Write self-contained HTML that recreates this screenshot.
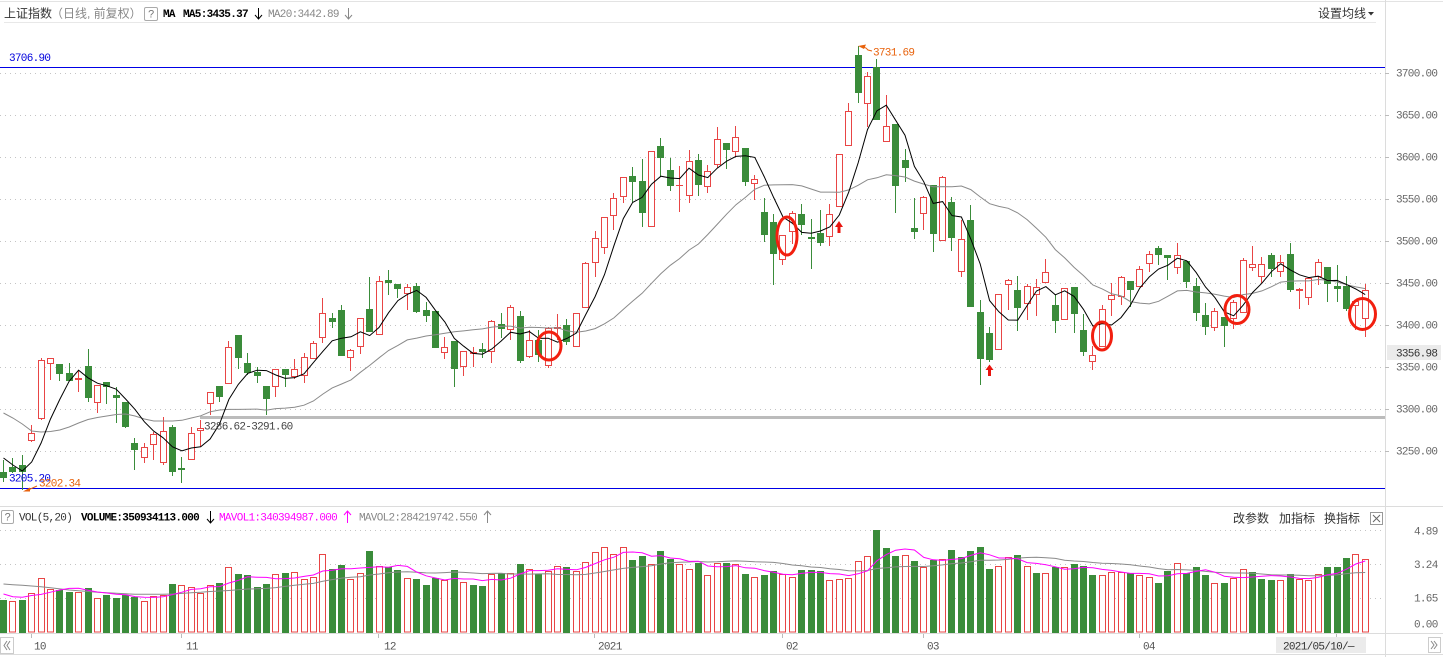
<!DOCTYPE html>
<html><head><meta charset="utf-8">
<style>
*{margin:0;padding:0;box-sizing:border-box}
html,body{width:1443px;height:657px;overflow:hidden;background:#fff}
body{position:relative}
svg{position:absolute;left:0;top:0}
.m{font-family:"Liberation Mono",monospace;font-size:11px;letter-spacing:-0.7px}
.c{font-family:"Liberation Sans","Noto Sans CJK SC",sans-serif;font-size:12px}
</style></head><body>
<svg id="s" width="1443" height="657" xmlns="http://www.w3.org/2000/svg">
<defs><clipPath id="cp"><rect x="0" y="24" width="1385" height="481"/></clipPath>
<clipPath id="cv"><rect x="0" y="507" width="1385" height="127"/></clipPath></defs>
<!-- frame lines -->
<line x1="0" y1="1.5" x2="1443" y2="1.5" stroke="#e3e3e3"/>
<line x1="4" y1="22.5" x2="1376" y2="22.5" stroke="#e8e8e8"/>
<line x1="1385.5" y1="0" x2="1385.5" y2="657" stroke="#dcdcdc"/>
<line x1="0" y1="506.5" x2="1443" y2="506.5" stroke="#dcdcdc"/>
<line x1="0" y1="633.5" x2="1443" y2="633.5" stroke="#dcdcdc"/>
<line x1="0" y1="654.5" x2="1443" y2="654.5" stroke="#dcdcdc"/>
<!-- price grid -->
<g stroke="#c4c4c4" stroke-dasharray="1 4">
<line x1="0" y1="73.5" x2="1382" y2="73.5"/><line x1="0" y1="115.5" x2="1382" y2="115.5"/>
<line x1="0" y1="157.5" x2="1382" y2="157.5"/><line x1="0" y1="199.5" x2="1382" y2="199.5"/>
<line x1="0" y1="241.5" x2="1382" y2="241.5"/><line x1="0" y1="283.5" x2="1382" y2="283.5"/>
<line x1="0" y1="325.5" x2="1382" y2="325.5"/><line x1="0" y1="367.5" x2="1382" y2="367.5"/>
<line x1="0" y1="409.5" x2="1382" y2="409.5"/><line x1="0" y1="451.5" x2="1382" y2="451.5"/>
<line x1="0" y1="530.5" x2="1382" y2="530.5"/><line x1="0" y1="564.5" x2="1382" y2="564.5"/>
<line x1="0" y1="598.5" x2="1382" y2="598.5"/>
</g>
<g stroke="#bbb">
<line x1="1385" y1="73.5" x2="1389" y2="73.5"/><line x1="1385" y1="115.5" x2="1389" y2="115.5"/>
<line x1="1385" y1="157.5" x2="1389" y2="157.5"/><line x1="1385" y1="199.5" x2="1389" y2="199.5"/>
<line x1="1385" y1="241.5" x2="1389" y2="241.5"/><line x1="1385" y1="283.5" x2="1389" y2="283.5"/>
<line x1="1385" y1="325.5" x2="1389" y2="325.5"/><line x1="1385" y1="367.5" x2="1389" y2="367.5"/>
<line x1="1385" y1="409.5" x2="1389" y2="409.5"/><line x1="1385" y1="451.5" x2="1389" y2="451.5"/>
<line x1="31.5" y1="634" x2="31.5" y2="638"/><line x1="181.5" y1="634" x2="181.5" y2="638"/>
<line x1="378.5" y1="634" x2="378.5" y2="638"/><line x1="594.5" y1="634" x2="594.5" y2="638"/>
<line x1="782.5" y1="634" x2="782.5" y2="638"/><line x1="923.5" y1="634" x2="923.5" y2="638"/>
<line x1="1139.5" y1="634" x2="1139.5" y2="638"/><line x1="1336.5" y1="634" x2="1336.5" y2="638"/>
</g>
<!-- blue lines and gap band -->
<line x1="0" y1="67.5" x2="1385" y2="67.5" stroke="#0000e6"/>
<line x1="0" y1="488.5" x2="1385" y2="488.5" stroke="#0000e6"/>
<rect x="200" y="416" width="1185" height="3" fill="#bcbcbc"/>
<g id="gc" clip-path="url(#cp)"></g>
<g id="gv" clip-path="url(#cv)"></g>
<!-- circles -->
<g fill="none" stroke="#f21f0f" stroke-width="3">
<ellipse cx="549" cy="346" rx="12" ry="14"/>
<ellipse cx="787" cy="236" rx="10" ry="19"/>
<ellipse cx="1102" cy="336" rx="9.5" ry="14"/>
<ellipse cx="1237" cy="309.5" rx="12" ry="14"/>
<ellipse cx="1362.5" cy="314" rx="13" ry="15.5"/>
</g>
<!-- red arrows -->
<path d="M835,227 L839,221 L843,227 L840.5,227 L840.5,233 L837.5,233 L837.5,227 Z" fill="#e8140e"/>
<path d="M985.5,370 L989.5,364.5 L993.5,370 L991,370 L991,376 L988,376 L988,370 Z" fill="#e8140e"/>
<!-- orange arrows -->
<path d="M858,46 L866,44.5 L864,49 Z" fill="#e8620c"/>
<path d="M863,47 L866,48 L868,50 L872,51" fill="none" stroke="#e8620c"/>
<path d="M23,491.5 L30,487.5 L30,491.5 Z" fill="#e8620c"/>
<line x1="28" y1="490" x2="37" y2="486" stroke="#e8620c"/>
<!-- header -->
<text class="c" x="4" y="17.5" fill="#333">上证指数</text>
<text class="c" x="51" y="17.5" fill="#888">（日线, 前复权）</text>
<rect x="144.5" y="7.5" width="13" height="13" rx="1.5" fill="none" stroke="#aaa"/>
<text class="m" x="148" y="17.5" fill="#777">?</text>
<text class="m" x="163" y="17" fill="#000" font-weight="bold">MA</text>
<text class="m" x="183" y="17" fill="#000" font-weight="bold">MA5:3435.37</text>
<path d="M258.5,8 V19 M255,15 L258.5,19 L262,15" fill="none" stroke="#000"/>
<text class="m" x="268" y="17" fill="#888">MA20:3442.89</text>
<path d="M348.5,8 V19 M345,15 L348.5,19 L352,15" fill="none" stroke="#888"/>
<text class="c" x="1318" y="17.5" fill="#333">设置均线</text>
<path d="M1368,12 L1374,12 L1371,15.5 Z" fill="#333"/>
<!-- price labels -->
<text class="m" x="9" y="61" fill="#0000dd">3706.90</text>
<text class="m" x="873" y="55.6" fill="#e8620c">3731.69</text>
<text class="m" x="9" y="481.6" fill="#0000dd">3205.20</text>
<text class="m" x="39" y="486.6" fill="#e8620c">3202.34</text>
<text class="m" x="204" y="429.6" fill="#444">3286.62-3291.60</text>
<g class="m" fill="#666">
<text x="1396" y="76.6">3700.00</text><text x="1396" y="118.6">3650.00</text>
<text x="1396" y="160.6">3600.00</text><text x="1396" y="202.6">3550.00</text>
<text x="1396" y="244.6">3500.00</text><text x="1396" y="286.6">3450.00</text>
<text x="1396" y="328.6">3400.00</text><text x="1396" y="370.6">3350.00</text>
<text x="1396" y="412.6">3300.00</text><text x="1396" y="454.6">3250.00</text>
<text x="1414" y="534.3">4.89</text><text x="1414" y="567.9">3.24</text>
<text x="1414" y="601.6">1.65</text><text x="1414" y="627.6">0.00</text>
</g>
<rect x="1387" y="345" width="54" height="15" fill="#ebebeb"/>
<text class="m" x="1396" y="356.6" fill="#333">3356.98</text>
<!-- volume header -->
<rect x="1.5" y="510.5" width="12" height="13" rx="1.5" fill="none" stroke="#aaa"/>
<text class="m" x="4.5" y="520.6" fill="#777">?</text>
<text class="m" x="19" y="520.6" fill="#333">VOL(5,20)</text>
<text class="m" x="81" y="520.6" fill="#000" font-weight="bold">VOLUME:350934113.000</text>
<path d="M210.5,511 V523 M207,519 L210.5,523 L214,519" fill="none" stroke="#000"/>
<text class="m" x="219" y="520.6" fill="#ff00ff">MAVOL1:340394987.000</text>
<path d="M347.5,523 V511 M344,515 L347.5,511 L351,515" fill="none" stroke="#ff00ff"/>
<text class="m" x="359" y="520.6" fill="#888">MAVOL2:284219742.550</text>
<path d="M487.5,523 V511 M484,515 L487.5,511 L491,515" fill="none" stroke="#888"/>
<text class="c" x="1233" y="522.6" fill="#333">改参数</text>
<text class="c" x="1279" y="522.6" fill="#333">加指标</text>
<text class="c" x="1324" y="522.6" fill="#333">换指标</text>
<rect x="1370.5" y="512.5" width="12" height="12" fill="none" stroke="#999"/>
<path d="M1373,515 L1380,522 M1380,515 L1373,522" stroke="#666"/>
<!-- x axis -->
<g class="m" fill="#555">
<text x="34" y="649.6">10</text><text x="186" y="649.6">11</text><text x="384" y="649.6">12</text>
<text x="598" y="649.6">2021</text><text x="786" y="649.6">02</text><text x="927" y="649.6">03</text>
<text x="1143" y="649.6">04</text>
</g>
<rect x="0.5" y="637.5" width="13" height="16" fill="none" stroke="#ccc"/>
<path d="M7,641 L4,645.5 L7,650 M10,641 L7,645.5 L10,650" fill="none" stroke="#888"/>
<rect x="1276" y="637" width="90" height="16" fill="#ebebeb"/>
<text class="m" x="1283" y="649.6" fill="#333">2021/05/10/—</text>
<rect x="1428.5" y="637.5" width="12" height="15" fill="none" stroke="#ccc"/>
<path d="M1431,641 L1434,645 L1431,649 M1434,641 L1437,645 L1434,649" fill="none" stroke="#888"/>
</svg>
<script>
var R='#e84545',G='#3a8c3a';
var C=[[0,472,478,460,482],[0,467,472,458,473],[0,465,472,455,490],[1,433,441,425,442],[1,360,419,358,420],[1,358,364,358,380],[0,364,374,364,381],[0,373,381,363,381],[1,378,380,370,392],[0,366,398,349,402],
[1,385,403,385,413],[0,382,387,382,404],[0,395,398,387,423],[0,402,427,402,428],[0,443,450,438,470],[1,447,458,443,463],[1,434,445,432,460],[1,431,463,417,465],[0,427,472,425,476],[0,468,470,457,483],
[1,433,460,427,460],[1,428,431,420,447],[1,392,404,392,415],[0,386,397,386,402],[1,347,384,341,384],[0,335,358,335,369],[0,363,373,353,375],[0,372,376,367,383],[0,386,399,386,415],[1,369,387,369,397],
[0,369,375,369,387],[1,369,377,359,379],[1,357,376,353,383],[1,343,359,341,359],[1,313,338,298,343],[0,318,322,313,328],[0,310,356,305,356],[1,350,358,349,371],[1,318,347,318,354],[0,309,332,277,332],
[1,281,335,276,335],[0,280,283,270,295],[0,284,289,284,298],[1,287,294,284,310],[0,286,312,283,313],[0,310,316,302,322],[0,311,348,311,348],[1,347,353,337,359],[0,341,369,341,387],[1,351,367,351,376],
[1,352,354,347,367],[0,349,352,343,358],[1,321,352,320,363],[0,324,329,313,338],[1,307,330,305,340],[0,316,361,311,363],[1,340,357,330,358],[0,340,355,330,362],[1,328,366,327,368],[1,327,329,314,340],
[0,325,342,319,345],[1,313,347,313,347],[1,263,308,262,308],[1,238,263,231,277],[1,217,248,217,254],[1,198,216,193,230],[1,177,197,177,203],[0,176,182,167,202],[0,181,213,159,227],[1,151,227,151,227],
[0,146,158,138,177],[0,170,186,158,191],[1,185,186,166,212],[1,161,196,150,203],[0,160,185,154,196],[1,171,187,165,193],[1,139,165,127,168],[0,143,150,143,169],[1,137,152,126,157],[0,148,182,148,186],
[1,179,184,175,200],[0,212,235,198,242],[0,222,254,214,285],[1,235,260,235,265],[1,213,232,211,244],[0,214,225,204,235],[0,237,239,219,269],[0,233,243,210,246],[1,214,237,204,246],[1,154,207,154,207],
[1,111,146,103,146],[0,55,93,46,103],[1,76,104,72,127],[0,67,120,59,120],[1,126,142,95,142],[0,124,186,124,213],[0,160,168,149,182],[0,228,232,198,239],[1,197,214,196,230],[0,185,234,185,252],
[1,177,241,176,241],[0,202,238,197,251],[1,239,272,220,277],[0,220,307,205,307],[0,312,359,300,385],[0,333,360,327,362],[1,294,350,294,350],[1,280,285,279,310],[0,290,308,276,331],[1,286,304,284,320],
[1,287,295,279,316],[1,272,283,259,283],[0,305,321,295,333],[1,288,320,288,320],[0,287,314,287,333],[0,330,352,314,356],[1,355,362,346,370],[1,309,347,305,347],[1,295,300,283,316],[1,277,297,276,305],
[0,281,290,281,307],[1,269,287,266,287],[1,254,264,251,272],[0,248,255,246,265],[0,255,258,255,280],[1,255,268,243,274],[0,261,282,261,288],[0,286,313,278,321],[0,315,327,303,335],[1,311,328,308,331],
[0,317,326,317,347],[1,302,319,300,329],[1,260,313,258,313],[1,264,268,246,271],[1,264,277,257,283],[0,255,269,253,277],[1,262,272,255,277],[0,254,290,243,292],[1,289,291,288,309],[1,278,298,277,305],
[1,262,277,259,285],[0,267,284,267,302],[0,286,289,265,302],[0,286,309,276,311],[1,301,306,301,330],[1,290,319,284,337]];
var V=[[0,600],[1,601],[0,600],[1,593],[1,578],[1,589],[0,590],[0,592],[1,592],[0,588],
[1,598],[0,595],[0,598],[0,595],[0,597],[1,601],[1,596],[1,595],[0,584],[1,585],
[1,587],[1,593],[1,585],[0,583],[1,567],[0,574],[0,575],[0,587],[0,584],[1,574],
[0,573],[1,572],[1,579],[1,577],[1,554],[0,569],[0,565],[1,579],[1,573],[0,551],
[1,566],[0,567],[0,570],[1,578],[0,579],[0,585],[0,578],[1,580],[0,570],[1,582],
[0,585],[0,586],[1,574],[0,573],[1,573],[0,564],[1,569],[0,574],[1,571],[1,566],
[0,567],[1,571],[1,562],[1,552],[1,547],[1,554],[1,547],[0,560],[0,556],[1,564],
[0,551],[0,559],[1,564],[1,569],[0,563],[1,575],[1,563],[0,563],[1,564],[0,574],
[1,577],[0,575],[0,571],[1,574],[1,577],[0,570],[0,570],[0,571],[1,580],[1,579],
[1,578],[1,561],[1,556],[0,530],[0,548],[0,556],[1,555],[0,561],[1,567],[0,560],
[1,559],[0,550],[0,557],[0,551],[0,547],[0,569],[1,566],[1,557],[0,555],[1,566],
[0,573],[1,573],[0,567],[1,567],[0,564],[0,566],[0,575],[1,575],[1,572],[1,572],
[0,573],[1,575],[1,577],[0,583],[0,571],[1,563],[0,573],[0,567],[0,575],[1,583],
[0,583],[1,578],[1,569],[0,572],[0,579],[0,580],[1,580],[0,574],[1,579],[1,580],
[1,574],[0,567],[0,567],[0,558],[1,554],[1,559]];
function X(i){return 3+9.391*i;}
function ln(a,b,c,d,col){return '<line x1="'+a+'" y1="'+b+'" x2="'+c+'" y2="'+d+'" stroke="'+col+'"/>';}
var s='',cl=[];
C.forEach(function(c,i){
 var cx=Math.round(X(i)),L=cx-3,wx=cx+0.5,t=c[0],bt=c[1],bb=c[2],wt=c[3],wb=c[4];
 cl.push(t?bt:bb);
 if(t){
  if(bb-bt<2){s+=ln(L,bt+0.5,L+7,bt+0.5,R);}
  else s+='<rect x="'+(L+0.5)+'" y="'+(bt+0.5)+'" width="6" height="'+(bb-bt-1)+'" fill="#fff" stroke="'+R+'"/>';
  if(wt<bt)s+=ln(wx,wt,wx,bt,R);
  if(wb>bb)s+=ln(wx,bb,wx,wb,R);
 }else{
  if(wb>wt)s+=ln(wx,wt,wx,wb,G);
  s+='<rect x="'+L+'" y="'+bt+'" width="7" height="'+Math.max(bb-bt,1)+'" fill="'+G+'"/>';
 }
});
function ma(a,n,st){return a.map(function(v,i){if(i<n-1)return st[i];var q=0;for(var k=i-n+1;k<=i;k++)q+=a[k];return q/n;});}
function pl(a,col){return '<polyline fill="none" stroke="'+col+'" stroke-width="1" points="'+a.map(function(y,i){return (X(i)+0.5).toFixed(1)+','+y.toFixed(1);}).join(' ')+'"/>';}
var m20=ma(cl,20,[413,418,424,431,432,431.5,430,427,423,419.5,417.5,416,414.5,414,416,419,421,421,421]);
var m5=ma(cl,5,[458,465,471,462]);
s+=pl(m20,'#8a8a8a')+pl(m5,'#000');
document.getElementById('gc').innerHTML=s;
var s2='',vt=[];
V.forEach(function(v,i){
 var cx=Math.round(X(i)),L=cx-3,t=v[0],top=v[1];vt.push(top);
 if(t)s2+='<rect x="'+(L+0.5)+'" y="'+(top+0.5)+'" width="6" height="'+(632-top-0.5)+'" fill="#fff" stroke="'+R+'"/>';
 else s2+='<rect x="'+L+'" y="'+top+'" width="7" height="'+(633-top)+'" fill="'+G+'"/>';
});
var v20=ma(vt,20,[584,584.7,585.3,586,586.7,587.8,588.9,590,590.8,591.5,592.3,592.8,593.3,593.8,594.3,594.3,594.3,594.3,594]);
var v5=ma(vt,5,[594,596.7,597.3,595.5]);
s2+=pl(v20,'#8a8a8a')+pl(v5,'#ff00ff');
document.getElementById('gv').innerHTML=s2;
</script>
</body></html>
